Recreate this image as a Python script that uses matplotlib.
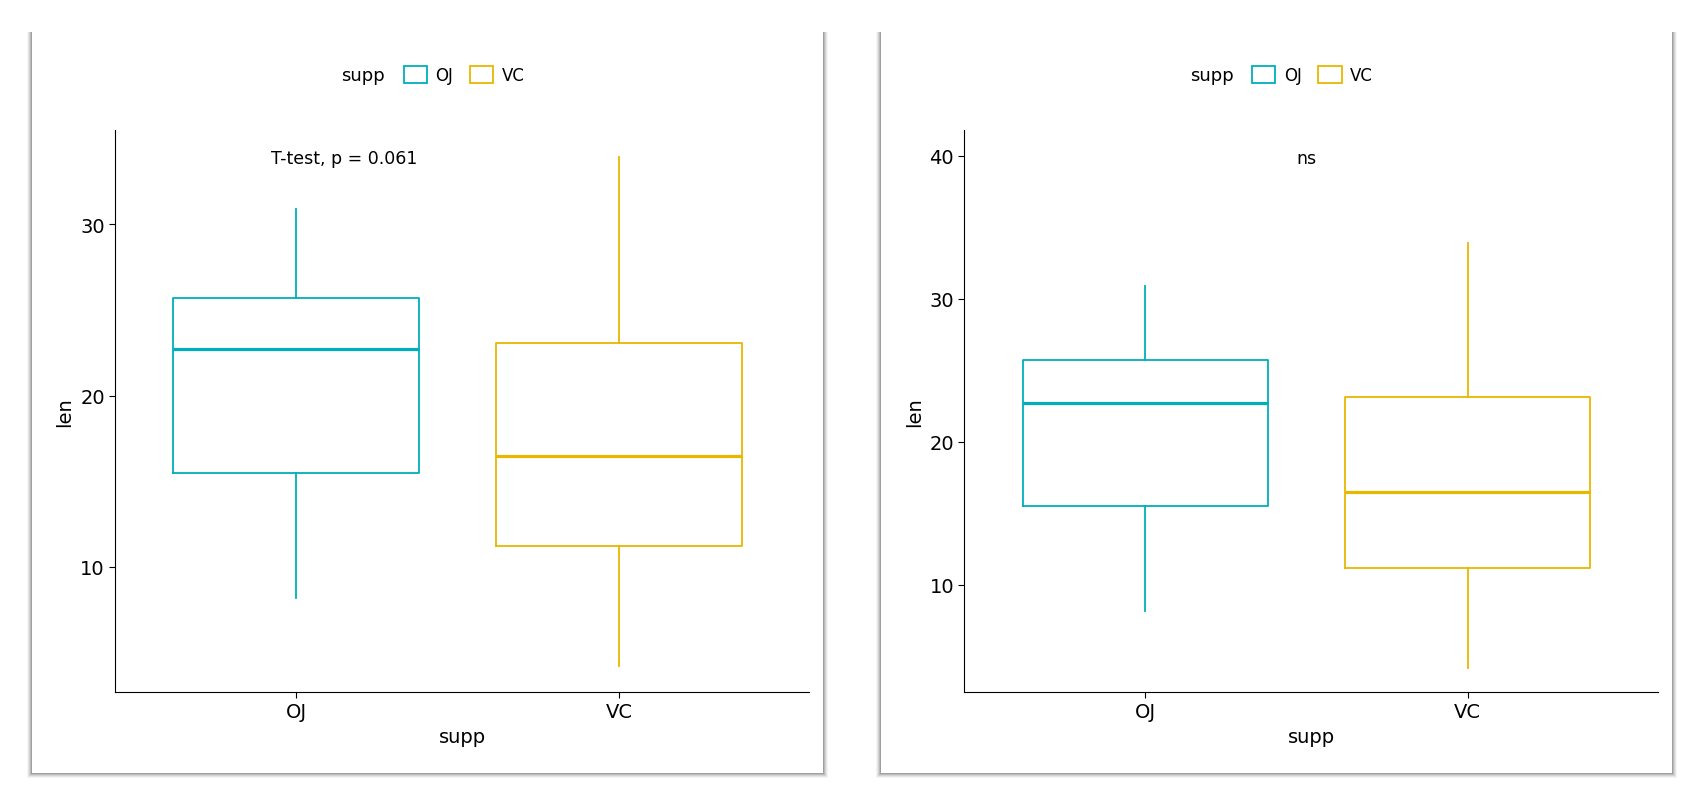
import matplotlib.pyplot as plt
from matplotlib.patches import Rectangle, Patch

groups = ['OJ', 'VC']
colors = ['#00AFBB', '#E7B800']
# five-number summaries
whislo = [8.2, 4.2]
q1 = [15.5, 11.2]
med = [22.7, 16.5]
q3 = [25.7, 23.1]
whishi = [30.9, 33.9]
labels_p = ['T-test, p = 0.061', 'ns']
ylims = [(2.7, 35.5), (2.5, 41.8)]
yticks = [[10, 20, 30], [10, 20, 30, 40]]

fig = plt.figure(figsize=(17.04, 8.04), dpi=100)

panels = [(0.019, 0.483), (0.517, 0.981)]
axes_x = [(0.0676, 0.475), (0.566, 0.973)]

for p in range(2):
    x0, x1 = panels[p]
    # soft drop shadow
    for k, a in enumerate([0.04, 0.06, 0.08, 0.11, 0.15]):
        d = 0.006 - k * 0.0012
        fig.patches.append(Rectangle((x0 - d * 0.5, 0.037 - d), x1 - x0 + d, 0.922 + d,
                                     transform=fig.transFigure, facecolor='black',
                                     alpha=a, edgecolor='none', zorder=0))
    fig.patches.append(Rectangle((x0, 0.037), x1 - x0, 0.922, transform=fig.transFigure,
                                 facecolor='white', edgecolor='none', zorder=1))

    ax = fig.add_axes([axes_x[p][0], 0.138, axes_x[p][1] - axes_x[p][0], 0.699], zorder=2)
    stats = []
    for i in range(2):
        stats.append(dict(whislo=whislo[i], q1=q1[i], med=med[i], q3=q3[i],
                          whishi=whishi[i], fliers=[], label=groups[i]))
    bp = ax.bxp(stats, positions=[1, 2], widths=0.76, showcaps=False, patch_artist=False)
    for i in range(2):
        bp['boxes'][i].set(color=colors[i], linewidth=1.3)
        bp['medians'][i].set(color=colors[i], linewidth=2.3)
        for w in bp['whiskers'][2 * i:2 * i + 2]:
            w.set(color=colors[i], linewidth=1.3)
    ax.set_xlim(0.44, 2.59)
    ax.set_ylim(*ylims[p])
    ax.set_yticks(yticks[p])
    ax.set_xticks([1, 2])
    ax.set_xticklabels(groups)
    ax.tick_params(labelsize=14, colors='black', length=4)
    for s in ['top', 'right']:
        ax.spines[s].set_visible(False)
    ax.set_xlabel('supp', fontsize=14)
    ax.set_ylabel('len', fontsize=14)
    ax.text(1.5 if p == 1 else 1.15, ylims[p][1] - (ylims[p][1] - ylims[p][0]) * 0.05,
            labels_p[p], ha='center', va='center', fontsize=12.5)

    handles = [Patch(facecolor='white', edgecolor=c, linewidth=1.3) for c in colors]
    cx = (x0 + x1) / 2
    fig.text(cx - 0.025, 0.905, 'supp', ha='right', va='center', fontsize=13, zorder=3)
    fig.legend(handles, groups, loc='center left', bbox_to_anchor=(cx - 0.023, 0.905),
               ncol=2, frameon=False, fontsize=12, handlelength=1.4, handleheight=1.2,
               columnspacing=1.0, handletextpad=0.5)

fig.savefig('out.png', dpi=100, facecolor='white')
